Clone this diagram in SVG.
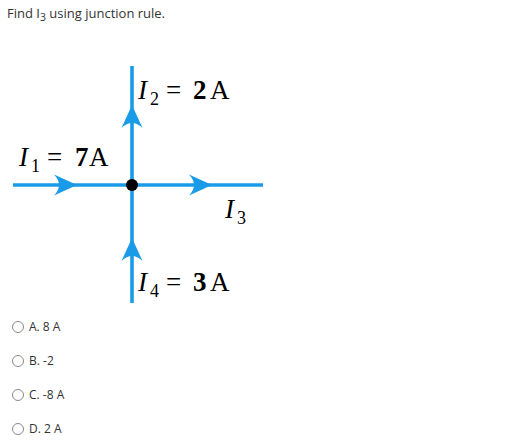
<svg xmlns="http://www.w3.org/2000/svg" width="521" height="444" viewBox="0 0 521 444">
<style>
.ui{font-family:"Open Sans","Noto Sans","Liberation Sans",sans-serif;fill:#333333;font-size:12px}
.hd{font-size:13px}
.wire{stroke:#1A9BE8;stroke-width:3.6;fill:none}
.ah{fill:#1A9BE8}
.m{font-family:"Liberation Serif","DejaVu Serif",serif;font-size:27px;fill:#000}
.it{font-style:italic}
.sb{font-size:18px}
.dg{font-weight:bold}
.opt{fill:#fff;stroke:#8a8a8a;stroke-width:1}
</style>
<defs>
<path id="arr" d="M0,0 L-23,-10.5 Q-13,0 -23,10.5 Z"/>
</defs>
<rect width="521" height="444" fill="#fff"/>
<text id="question" class="ui hd" x="7" y="18">Find I<tspan font-size="10.5" dy="2.5">3</tspan><tspan dy="-2.5"> using junction rule.</tspan></text>

<g id="connectors">
<line class="wire" x1="13" y1="185" x2="263" y2="185"/>
<line class="wire" x1="132" y1="66" x2="132" y2="303"/>
<use href="#arr" class="ah" transform="translate(77,185)"/>
<use href="#arr" class="ah" transform="translate(212,185)"/>
<use href="#arr" class="ah" transform="translate(132,105) rotate(-90)"/>
<use href="#arr" class="ah" transform="translate(132,238) rotate(-90)"/>
</g>

<g id="junction">
<circle cx="132" cy="185" r="6" fill="#000"/>
</g>

<g id="label-I1" class="m">
<text class="it" x="19" y="166">I</text>
<text class="sb" x="31" y="172">1</text>
<text x="47" y="166">=</text>
<text class="dg" x="75" y="166">7</text>
<text x="89" y="166">A</text>
</g>
<g id="label-I2" class="m">
<text class="it" x="138" y="99">I</text>
<text class="sb" x="150" y="105">2</text>
<text x="166" y="99">=</text>
<text class="dg" x="193" y="99">2</text>
<text x="210" y="99">A</text>
</g>
<g id="label-I3" class="m">
<text class="it" x="225" y="218">I</text>
<text class="sb" x="237" y="224">3</text>
</g>
<g id="label-I4" class="m">
<text class="it" x="138" y="291">I</text>
<text class="sb" x="150" y="297">4</text>
<text x="166" y="291">=</text>
<text class="dg" x="193" y="291">3</text>
<text x="210" y="291">A</text>
</g>

<g id="option-A"><circle class="opt" cx="18" cy="327" r="5.5"/><text class="ui" x="29" y="331">A. 8 A</text></g>
<g id="option-B"><circle class="opt" cx="18" cy="361" r="5.5"/><text class="ui" x="29" y="365">B. -2</text></g>
<g id="option-C"><circle class="opt" cx="18" cy="395" r="5.5"/><text class="ui" x="29" y="399">C. -8 A</text></g>
<g id="option-D"><circle class="opt" cx="18" cy="429" r="5.5"/><text class="ui" x="29" y="433">D. 2 A</text></g>
</svg>
